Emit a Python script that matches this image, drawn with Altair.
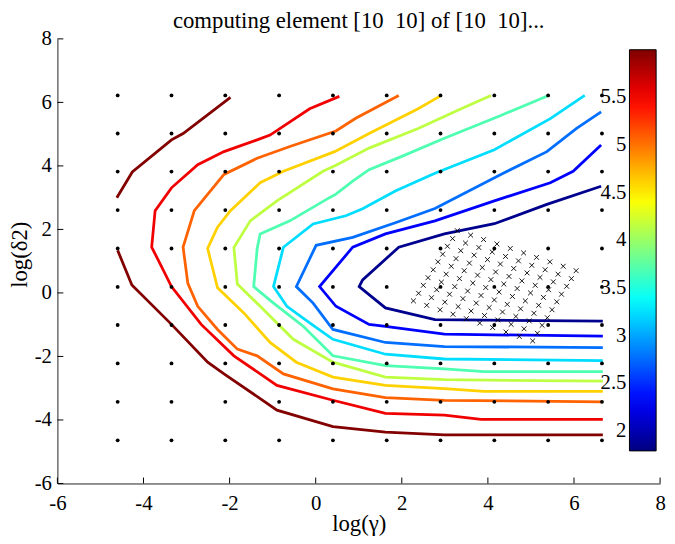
import altair as alt
import pandas as pd

# evaluated grid (log gamma, log delta2)
grid_x = [-4.60, -3.35, -2.10, -0.85, 0.40, 1.65, 2.90, 4.15, 5.40, 6.65]
grid_y = [-4.64, -3.43, -2.22, -1.01, 0.19, 1.40, 2.61, 3.82, 5.02, 6.22]

# refined search points (x markers), one row per list
cross_x = [
    [3.29, 3.60, 3.90, 4.21, 4.52, 4.83, 5.13, 5.44, 5.75, 6.05],
    [3.18, 3.48, 3.79, 4.10, 4.41, 4.71, 5.02, 5.33, 5.63, 5.94],
    [3.06, 3.37, 3.68, 3.99, 4.29, 4.60, 4.91, 5.21, 5.52, 5.83],
    [2.95, 3.26, 3.57, 3.87, 4.18, 4.49, 4.79, 5.10, 5.41, 5.71],
    [2.84, 3.15, 3.45, 3.76, 4.07, 4.37, 4.68, 4.99, 5.29, 5.60],
    [2.73, 3.03, 3.34, 3.65, 3.95, 4.26, 4.57, 4.87, 5.18, 5.49],
    [2.61, 2.92, 3.23, 3.53, 3.84, 4.15, 4.45, 4.76, 5.07, 5.38],
    [2.50, 2.81, 3.11, 3.42, 3.73, 4.03, 4.34, 4.65, 4.96, 5.26],
    [2.39, 2.69, 3.00, 3.31, 3.61, 3.92, 4.23, 4.54, 4.84, 5.15],
    [2.27, 2.58, 2.89, 3.19, 3.50, 3.81, 4.11, 4.42, 4.73, 5.04],
]
cross_y = [
    [1.96, 1.82, 1.68, 1.54, 1.40, 1.26, 1.12, 0.98, 0.84, 0.70],
    [1.71, 1.57, 1.43, 1.29, 1.15, 1.01, 0.87, 0.73, 0.59, 0.45],
    [1.47, 1.33, 1.19, 1.05, 0.91, 0.77, 0.63, 0.49, 0.35, 0.21],
    [1.22, 1.08, 0.94, 0.80, 0.66, 0.52, 0.38, 0.24, 0.10, -0.04],
    [0.98, 0.84, 0.70, 0.56, 0.42, 0.28, 0.14, 0.00, -0.14, -0.28],
    [0.73, 0.59, 0.45, 0.31, 0.17, 0.03, -0.11, -0.25, -0.39, -0.53],
    [0.48, 0.34, 0.20, 0.06, -0.08, -0.22, -0.36, -0.50, -0.64, -0.78],
    [0.24, 0.10, -0.04, -0.18, -0.32, -0.46, -0.60, -0.74, -0.88, -1.02],
    [-0.01, -0.15, -0.29, -0.43, -0.57, -0.71, -0.85, -0.99, -1.13, -1.27],
    [-0.25, -0.39, -0.53, -0.67, -0.81, -0.95, -1.09, -1.23, -1.37, -1.51],
]

# contour levels and paths
levels = [1.85, 2.31, 2.77, 3.23, 3.69, 4.15, 4.61, 5.07, 5.53, 5.99]

c1_x = [6.63, 5.37, 4.15, 2.99, 1.93, 1.09, 1.01, 1.62, 2.77, 6.67]
c1_y = [3.36, 2.79, 2.18, 1.86, 1.44, 0.41, 0.20, -0.47, -0.84, -0.89]
c2_x = [6.63, 5.98, 5.45, 4.15, 2.77, 1.62, 0.86, 0.09, 0.47, 1.24, 1.62, 2.99, 6.67]
c2_y = [4.66, 3.83, 3.47, 2.90, 2.27, 1.86, 1.44, 0.20, -0.42, -0.99, -1.05, -1.30, -1.36]
c3_x = [6.63, 6.06, 5.37, 4.30, 2.77, 1.85, 0.86, 0.01, -0.45, -0.06, 0.40, 1.62, 2.99, 6.67]
c3_y = [5.70, 5.18, 4.45, 3.73, 2.66, 2.21, 1.75, 1.50, 0.20, -0.32, -1.15, -1.56, -1.69, -1.72]
c4_x = [6.25, 5.45, 4.15, 2.77, 1.85, 1.09, 0.70, -0.06, -0.75, -0.98, -0.67, -0.14, 0.40, 1.62, 2.99, 6.67]
c4_y = [6.22, 5.49, 4.51, 3.77, 3.21, 2.65, 2.43, 2.17, 1.44, 0.20, -0.42, -0.94, -1.46, -1.93, -2.08, -2.13]
c5_x = [5.41, 4.30, 2.99, 2.00, 1.24, 0.86, 0.47, 0.32, -0.60, -1.29, -1.36, -1.44, -0.98, -0.29, 0.40, 1.62, 2.99, 3.91, 6.67]
c5_y = [6.22, 5.59, 4.87, 4.30, 3.88, 3.52, 3.11, 3.00, 2.27, 1.86, 1.39, 0.20, -0.32, -1.05, -1.98, -2.29, -2.39, -2.48, -2.48]
c6_x = [4.07, 3.38, 2.38, 1.24, 0.47, 0.17, -0.90, -1.52, -1.90, -1.82, -1.29, -0.52, 0.40, 1.62, 2.99, 6.67]
c6_y = [6.22, 5.80, 5.18, 4.56, 4.02, 3.83, 2.90, 2.27, 1.43, 0.28, -0.42, -1.46, -2.18, -2.65, -2.73, -2.78]
c7_x = [2.92, 2.38, 1.85, 1.24, 0.44, -0.75, -1.29, -1.98, -2.28, -2.51, -2.28, -1.67, -1.06, -0.45, 0.40, 1.62, 2.99, 3.91, 6.67]
c7_y = [6.22, 5.80, 5.44, 5.02, 4.45, 3.83, 3.47, 2.59, 2.07, 1.40, 0.16, -0.63, -1.56, -2.18, -2.65, -2.91, -3.01, -3.10, -3.10]
c8_x = [1.93, 0.93, 0.47, -0.60, -1.36, -2.13, -2.82, -3.08, -2.97, -2.74, -2.28, -1.82, -1.36, -0.75, 0.40, 1.62, 2.99, 6.67]
c8_y = [6.22, 5.50, 5.10, 4.61, 4.24, 3.73, 2.59, 1.44, 0.30, -0.42, -1.15, -1.77, -1.98, -2.55, -3.02, -3.30, -3.38, -3.43]
c9_x = [0.55, -0.14, -1.06, -1.36, -2.13, -2.74, -3.35, -3.73, -3.81, -3.66, -3.35, -2.66, -1.90, -0.90, 0.40, 1.62, 2.99, 3.84, 6.67]
c9_y = [6.19, 5.80, 4.97, 4.82, 4.45, 4.04, 3.31, 2.59, 1.44, 1.04, 0.20, -0.99, -1.98, -2.91, -3.38, -3.79, -3.85, -3.98, -3.98]
c10a_x = [-4.62, -4.26, -3.35, -3.08, -1.98]
c10a_y = [3.00, 3.81, 4.82, 5.02, 6.16]
c10b_x = [-4.60, -4.27, -3.35, -2.51, -2.13, -0.90, 0.40, 1.62, 2.99, 6.67]
c10b_y = [1.34, 0.25, -0.99, -2.18, -2.55, -3.69, -4.21, -4.38, -4.47, -4.47]

axis_ticks = [-6, -4, -2, 0, 2, 4, 6, 8]
bar_ticks = [2, 2.5, 3, 3.5, 4, 4.5, 5, 5.5]
bar_range = [1.79, 6.0]
jet_colors = ["#000080", "#0000ff", "#0080ff", "#00ffff", "#80ff80",
              "#ffff00", "#ff8000", "#ff0000", "#800000"]
jet_stops = [1.79, 2.316, 2.843, 3.369, 3.895, 4.421, 4.948, 5.474, 6.0]

# ---- build tables ----
dots = pd.DataFrame([(x, y) for x in grid_x for y in grid_y], columns=["x", "y"])
crosses = pd.DataFrame(
    [(x, y) for rx, ry in zip(cross_x, cross_y) for x, y in zip(rx, ry)],
    columns=["x", "y"])

paths = [
    ("c1", levels[0], c1_x, c1_y), ("c2", levels[1], c2_x, c2_y),
    ("c3", levels[2], c3_x, c3_y), ("c4", levels[3], c4_x, c4_y),
    ("c5", levels[4], c5_x, c5_y), ("c6", levels[5], c6_x, c6_y),
    ("c7", levels[6], c7_x, c7_y), ("c8", levels[7], c8_x, c8_y),
    ("c9", levels[8], c9_x, c9_y), ("c10a", levels[9], c10a_x, c10a_y),
    ("c10b", levels[9], c10b_x, c10b_y),
]
rows = []
for seg, lev, xs_, ys_ in paths:
    for i, (x, y) in enumerate(zip(xs_, ys_)):
        rows.append({"seg": seg, "level": lev, "i": i, "x": x, "y": y})
lines = pd.DataFrame(rows)
ticks = pd.DataFrame({"v": axis_ticks})
cbar = pd.DataFrame({"v": bar_ticks, "label": [f"{t:g}" for t in bar_ticks]})

FONT = "Liberation Serif"
xs = alt.Scale(domain=[-6, 8], nice=False, zero=False)
ys = alt.Scale(domain=[-6, 8], nice=False, zero=False)
# colorbar occupies plot-y 11..417 (same place as the gradient legend)
cs = alt.Scale(domain=[bar_range[1], bar_range[0]], range=[11, 417],
               nice=False, zero=False)

LABEL_EXPR = "'' + datum.value"
xaxis = alt.Axis(values=axis_ticks, title="log(γ)", labelPadding=9,
                 labelFlush=False, labelExpr=LABEL_EXPR,
                 titleY=41, titleBaseline="middle")
yaxis = alt.Axis(values=axis_ticks, title="log(δ2)", labelPadding=6,
                 labelFlush=False, labelExpr=LABEL_EXPR,
                 titleX=-38, titleY=218, titleBaseline="middle")

contours = alt.Chart(lines).mark_line(strokeWidth=2.8).encode(
    x=alt.X("x:Q", scale=xs, axis=xaxis),
    y=alt.Y("y:Q", scale=ys, axis=yaxis),
    color=alt.Color(
        "level:Q",
        scale=alt.Scale(domain=jet_stops, range=jet_colors, interpolate="rgb"),
        legend=alt.Legend(
            type="gradient", orient="none", legendX=579, legendY=11,
            direction="vertical", gradientLength=406, gradientThickness=27,
            gradientStrokeColor="black", gradientStrokeWidth=1,
            title=None, values=bar_ticks, labelOpacity=0, labelFontSize=1),
    ),
    detail="seg:N",
    order="i:Q",
)

dot_layer = alt.Chart(dots).mark_circle(size=15, color="black", opacity=1).encode(
    x=alt.X("x:Q", scale=xs), y=alt.Y("y:Q", scale=ys))

cross_layer = alt.Chart(crosses).mark_point(
    shape="M-1,-1L1,1M-1,1L1,-1", size=24, strokeWidth=0.9,
    color="black", filled=False, opacity=1).encode(
    x=alt.X("x:Q", scale=xs), y=alt.Y("y:Q", scale=ys))

xtick_layer = alt.Chart(ticks).mark_rule(color="black", strokeWidth=1).encode(
    x=alt.X("v:Q", scale=xs), y=alt.value(450), y2=alt.value(444))
ytick_layer = alt.Chart(ticks).mark_rule(color="black", strokeWidth=1).encode(
    y=alt.Y("v:Q", scale=ys), x=alt.value(0), x2=alt.value(6))

main = alt.layer(contours, dot_layer, cross_layer, xtick_layer, ytick_layer)

cbar_text = alt.Chart(cbar).mark_text(
    font=FONT, fontSize=21, color="black", align="right", baseline="middle").encode(
    y=alt.Y("v:Q", scale=cs, axis=None), x=alt.value(576), text="label:N")
cbar_tl = alt.Chart(cbar).mark_rule(color="black", strokeWidth=1).encode(
    y=alt.Y("v:Q", scale=cs, axis=None), x=alt.value(580), x2=alt.value(584))
cbar_tr = alt.Chart(cbar).mark_rule(color="black", strokeWidth=1).encode(
    y=alt.Y("v:Q", scale=cs, axis=None), x=alt.value(601), x2=alt.value(605))
bar = alt.layer(cbar_text, cbar_tl, cbar_tr)

chart = alt.layer(main, bar).resolve_scale(y="independent").properties(
    width=610, height=450,
    padding={"left": 50, "top": 28, "right": 7, "bottom": 58},
    autosize=alt.AutoSizeParams(type="none"),
    title=alt.TitleParams(
        text="computing element [10\u00a0\u00a010] of [10\u00a0\u00a010]...",
        font=FONT, fontSize=23, fontWeight="normal", color="black",
        anchor="middle", offset=-5),
).configure_axis(
    labelFont=FONT, labelFontSize=21, labelColor="black",
    titleFont=FONT, titleFontSize=23, titleFontWeight="normal", titleColor="black",
    domainColor="#222222", domainWidth=1, grid=False, ticks=False,
).configure_view(stroke=None)

chart.save("out.html", embed_options={"renderer": "svg", "actions": False})
